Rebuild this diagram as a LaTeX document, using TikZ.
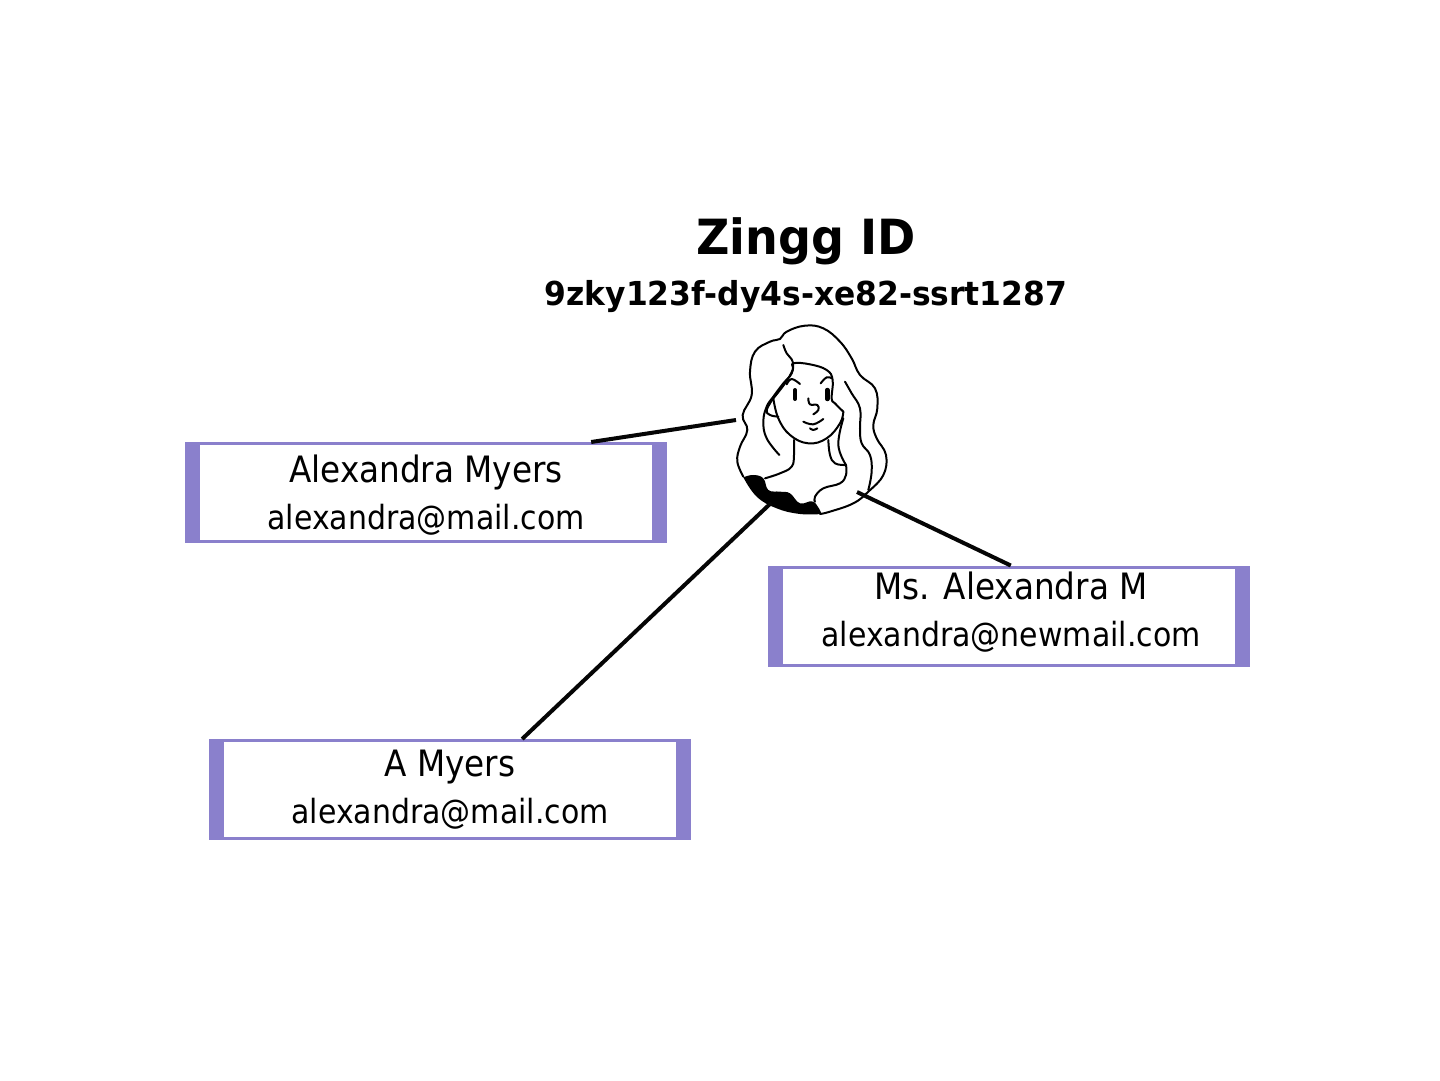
\documentclass[tikz,border=0pt]{standalone}
\usepackage{fontspec}
\setmainfont{DejaVu Sans}[FakeStretch=0.90,BoldFeatures={FakeStretch=0.95}]
\usetikzlibrary{arrows}
\definecolor{box_purple}{RGB}{138,128,204}
\definecolor{line_black}{RGB}{5,5,5}
\begin{document}
\begin{tikzpicture}[x=1pt,y=-1pt]
    \tikzstyle{title}=[text=black,font=\fontsize{48.5}{50}\selectfont\bfseries]
    \tikzstyle{idtext}=[text=black,font=\fontsize{33}{36}\selectfont\bfseries]
    \tikzstyle{record}=[draw=box_purple, line width=3pt, outer sep=1.5pt, inner sep=0pt, minimum width=479pt, minimum height=98pt]
    \tikzstyle{recname}=[anchor=base, inner sep=0pt, text=black, font=\fontsize{36.3}{40}\selectfont]
    \tikzstyle{recmail}=[anchor=base, inner sep=0pt, text=black, font=\fontsize{33.3}{40}\selectfont]
    \tikzstyle{bar}=[fill=box_purple]
    \tikzstyle{link}=[draw=line_black, line width=4pt]
    \tikzstyle{ink}=[draw=black, line width=2pt, line cap=round, line join=round]

    \useasboundingbox (0,0) rectangle (1440,1080);

    \node[title] (zingg) at (806,241) {Zingg ID};
    \node[idtext] (zid) at (806,297) {9zky123f-dy4s-xe82-ssrt1287};

    \node[record] (A) at (426,492.5) {};
    \node[record] (B) at (1009,616)  {};
    \node[record] (C) at (450,789.5) {};

    \foreach \n in {A,B,C} {
      \fill[bar] (\n.north west) rectangle ([xshift=15pt]\n.south west);
      \fill[bar] (\n.north east) rectangle ([xshift=-15pt]\n.south east);
    }

    \node[recname] (A_name) at (426,482)  {Alexandra Myers};
    \node[recmail] (A_mail) at (426,529)  {alexandra@mail.com};
    \node[recname] (B_name) at (1011,599) {Ms. Alexandra M};
    \node[recmail] (B_mail) at (1011,646) {alexandra@newmail.com};
    \node[recname] (C_name) at (450,776)  {A Myers};
    \node[recmail] (C_mail) at (450,823)  {alexandra@mail.com};

    % the avatar, in 3x crop units
    \begin{scope}[shift={(720,315)},x=0.3333pt,y=-0.3333pt,smooth,tension=0.7]
      \fill[black] plot[smooth] coordinates {(70,487) (100,480) (130,490) (145,525) (180,530) (210,535) (240,565) (280,560) (305,597)}
        -- plot[smooth] coordinates {(305,597) (240,597) (170,580) (110,545) (70,487)};
      % outline
      \draw[ink] plot[smooth] coordinates {(70,485) (52,440) (60,395) (82,345) (68,300) (95,240) (90,170) (105,110) (150,80) (180,72) (200,50) (255,32) (310,40) (360,80) (395,130) (420,180) (465,220) (472,280) (460,330) (470,370) (498,420) (490,480) (445,530) (400,565) (330,590) (300,597)};
      % neck and shoulders
      \draw[ink] plot[smooth] coordinates {(135,490) (180,475) (215,455) (222,420) (222,375)};
      \draw[ink] plot[smooth] coordinates {(285,560) (285,545) (310,520) (360,505) (378,480) (378,450)};
      \draw[ink] plot[smooth] coordinates {(325,375) (330,420) (345,445) (375,450)};
      % face
      \draw[ink] plot[smooth] coordinates {(160,250) (175,310) (210,360) (265,385) (320,370) (360,325) (370,290)};
      \draw[ink] plot[smooth] coordinates {(160,250) (195,205) (218,165) (220,145) (270,148) (320,165) (338,195) (335,250) (345,265) (370,290)};
      % hair strands
      \draw[ink] plot[smooth] coordinates {(190,90) (200,115) (218,140) (215,175) (190,205) (160,245) (140,275) (130,320) (140,370) (178,420)};
      \draw[ink] plot[smooth] coordinates {(160,250) (140,285) (150,300) (175,305)};
      \draw[ink] plot[smooth] coordinates {(375,200) (395,235) (420,280) (420,340) (425,385) (450,420) (455,470) (445,525)};
      \draw[ink] plot[smooth] coordinates {(370,310) (355,390) (378,450)};
      % eyes, brows, nose, mouth
      \draw[ink,line width=4pt] (225,225) -- (225,252);
      \draw[ink,line width=4.5pt] (322,225) -- (322,252);
      \draw[ink] plot[smooth] coordinates {(200,208) (215,192) (240,207)};
      \draw[ink] plot[smooth] coordinates {(302,205) (320,187) (335,190)};
      \draw[ink] plot[smooth] coordinates {(265,250) (270,268) (292,270) (295,285) (280,298)};
      \draw[ink] plot[smooth] coordinates {(250,320) (280,328) (310,312)};
      \draw[ink] plot[smooth] coordinates {(270,340) (280,345) (292,340)};
    \end{scope}

    \coordinate (hair_w) at (736,420);
    \coordinate (hair_s) at (771,503);
    \coordinate (hair_e) at (857,492);

    \path[link]
     (hair_w) edge (A.17.5)
     (hair_e) edge (B.88)
     (hair_s) edge (C.35.6);
\end{tikzpicture}
\end{document}
